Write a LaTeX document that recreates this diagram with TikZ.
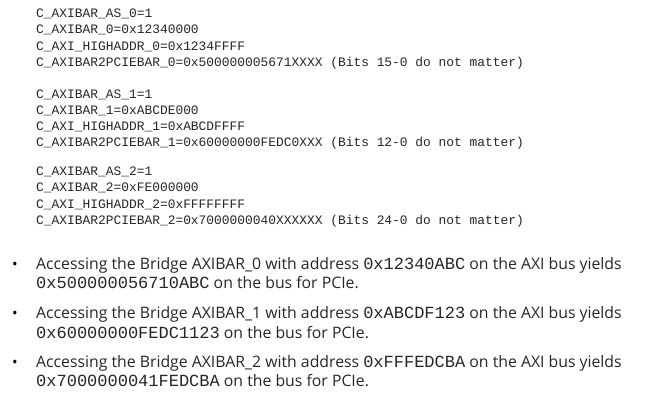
\documentclass[tikz,border=0pt]{standalone}
\usepackage{fontspec}
\setmainfont{Open Sans}
\setmonofont{Liberation Mono}
\begin{document}
\begin{tikzpicture}[x=1pt,y=-1pt,
        % code listing lines
        code/.style={anchor=base west,inner sep=0pt,font=\ttfamily\fontsize{12.9}{14}\selectfont,text=black!85},
        % bullet text
        item/.style={anchor=base west,inner sep=0pt,font=\fontsize{15.8}{17}\selectfont,text=black!85},
        dot/.style={anchor=base,inner sep=0pt,font=\fontsize{15}{17}\selectfont}
      ]
      \useasboundingbox (0,0) rectangle (648,403);
      \newcommand{\hx}[1]{{\ttfamily\fontsize{17}{18}\selectfont #1}}

      % First address window
      \node(asa) [code] at (36,18) {C\_AXIBAR\_AS\_0=1};
      \node(bara) [code] at (36,34) {C\_AXIBAR\_0=0x12340000};
      \node(hia) [code] at (36,51) {C\_AXI\_HIGHADDR\_0=0x1234FFFF};
      \node(pcia) [code] at (36,67) {C\_AXIBAR2PCIEBAR\_0=0x500000005671XXXX (Bits 15-0 do not matter)};

      % Second address window
      \node(asb) [code] at (36,99) {C\_AXIBAR\_AS\_1=1};
      \node(barb) [code] at (36,115) {C\_AXIBAR\_1=0xABCDE000};
      \node(hib) [code] at (36,131) {C\_AXI\_HIGHADDR\_1=0xABCDFFFF};
      \node(pcib) [code] at (36,147) {C\_AXIBAR2PCIEBAR\_1=0x60000000FEDC0XXX (Bits 12-0 do not matter)};

      % Third address window
      \node(asc) [code] at (36,176) {C\_AXIBAR\_AS\_2=1};
      \node(barc) [code] at (36,192) {C\_AXIBAR\_2=0xFE000000};
      \node(hic) [code] at (36,209) {C\_AXI\_HIGHADDR\_2=0xFFFFFFFF};
      \node(pcic) [code] at (36,225) {C\_AXIBAR2PCIEBAR\_2=0x7000000040XXXXXX (Bits 24-0 do not matter)};

      % Bullets
      \node(dota) [dot] at (15,270) {\textbullet};
      \node(ia1) [item] at (36,270) {Accessing the Bridge AXIBAR\_0 with address \hx{0x12340ABC} on the AXI bus yields};
      \node(ia2) [item] at (36,289) {\hx{0x500000056710ABC} on the bus for PCIe.};
      \node(dotb) [dot] at (15,319) {\textbullet};
      \node(ib1) [item] at (36,319) {Accessing the Bridge AXIBAR\_1 with address \hx{0xABCDF123} on the AXI bus yields};
      \node(ib2) [item] at (36,338) {\hx{0x60000000FEDC1123} on the bus for PCIe.};
      \node(dotc) [dot] at (15,367) {\textbullet};
      \node(ic1) [item] at (36,367) {Accessing the Bridge AXIBAR\_2 with address \hx{0xFFFEDCBA} on the AXI bus yields};
      \node(ic2) [item] at (36,386) {\hx{0x7000000041FEDCBA} on the bus for PCIe.};
\end{tikzpicture}
\end{document}
